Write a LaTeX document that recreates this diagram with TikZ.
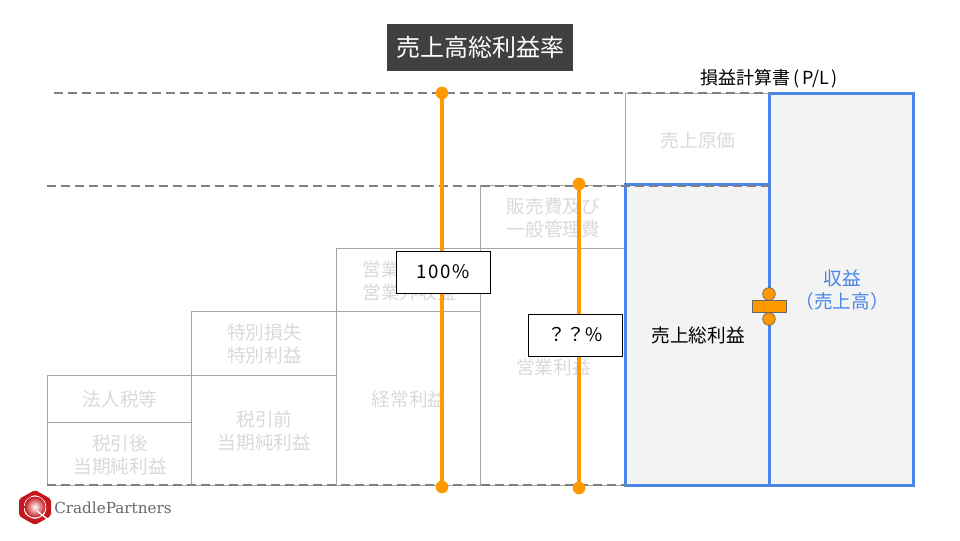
\documentclass[tikz,border=0pt]{standalone}
\usepackage{fontspec}
\setmainfont{Noto Sans CJK JP}
\newfontfamily\logofont{DejaVu Serif}
\definecolor{plblue}{HTML}{4A86E8}
\definecolor{plorange}{HTML}{FF9900}
\definecolor{pltext}{HTML}{D9D9D9}
\definecolor{plline}{HTML}{A6A6A6}
\definecolor{plfill}{HTML}{F3F3F3}
\definecolor{logored}{HTML}{C4161C}
\tikzset{
    plbox/.style={draw=plline, line width=0.75pt},
    bluebox/.style={draw=plblue, fill=plfill, line width=2.25pt},
    pltitle/.style={text=pltext, align=center, font=\fontsize{14}{17.3}\selectfont, inner sep=0pt, xshift=0.75pt, yshift=-0.75pt},
    guide/.style={draw=black!50, dash pattern=on 6.4pt off 4.1pt, line width=1.5pt},
    ratio/.style={draw=plorange, line width=2.6pt},
    dot/.style={circle, fill=plorange, minimum size=9.5pt, inner sep=0pt},
    percent/.style={draw=black, fill=white, line width=0.75pt, minimum width=70.5pt, minimum height=31.5pt, inner sep=0pt, font=\fontsize{14}{17}\selectfont}
}
\begin{document}
\begin{tikzpicture}[x=0.75pt,y=-0.75pt]
    \useasboundingbox (0,0) rectangle (960,540);

    % Blocks of the statement
    \draw[plbox] (47,375) rectangle (191,422) node[midway, pltitle] (tax) {法人税等};
    \draw[plbox] (47,422) rectangle (191,485) node[midway, pltitle] (aftertax) {税引後\\当期純利益};
    \draw[plbox] (191,375) rectangle (336,485) node[midway, pltitle] (pretax) {税引前\\当期純利益};
    \draw[plbox] (191,311) rectangle (336,375) node[midway, pltitle] (special) {特別損失\\特別利益};
    \draw[plbox] (336,311) rectangle (480,485) node[midway, pltitle] (ordinary) {経常利益};
    \draw[plbox] (336,248) rectangle (480,311) node[midway, pltitle] (nonop) {営業外費用\\営業外収益};
    \draw[plbox] (480,248) rectangle (625,485) node[midway, pltitle] (operating) {営業利益};
    \draw[plbox] (480,185) rectangle (625,248) node[midway, pltitle] (sga) {販売費及び\\一般管理費};
    \draw[plbox] (625,93) rectangle (769,185) node[midway, pltitle] (cogs) {売上原価};

    % Blue blocks
    \draw[bluebox] (625,184) rectangle (769,485) node[midway, pltitle, text=black] (gross) {売上総利益};
    \draw[bluebox] (769,93) rectangle (913,485) node[midway, pltitle, text=plblue] (revenue) {収益\\（売上高）};

    % Dashed levels
    \coordinate (topleft) at (54,93);
    \coordinate (topright) at (769,93);
    \coordinate (midleft) at (47,185.5);
    \coordinate (midright) at (769,185.5);
    \coordinate (lowleft) at (47,485);
    \coordinate (lowright) at (625,485);
    \draw[guide] (topleft) -- (topright);
    \draw[guide] (midleft) -- (midright);
    \draw[guide] (lowleft) -- (lowright);

    % Orange bars
    \node[dot] (fulltop) at (442,93) {};
    \node[dot] (fulllow) at (442,487) {};
    \node[dot] (parttop) at (579,184) {};
    \node[dot] (partlow) at (579,488) {};
    \draw[ratio] (fulltop.center) -- (fulllow.center);
    \draw[ratio] (parttop.center) -- (partlow.center);

    % Percent labels
    \node[percent] (full) at (443,272) {\addfontfeature{LetterSpace=10}100\%};
    \node[percent] (part) at (575,335) {？？\%};

    % Division sign
    \node[dot, draw=black!60, line width=0.5pt] (divtop) at (769,294) {};
    \node[dot, draw=black!60, line width=0.5pt] (divlow) at (769,319) {};
    \node[draw=black!60, fill=plorange, line width=0.75pt, minimum width=25.5pt, minimum height=9pt, inner sep=0pt] (divbar) at (769.5,306.5) {};

    % Headings
    \node[fill=black!75, text=white, minimum width=139.5pt, minimum height=35pt, inner sep=0pt, font=\fontsize{18}{22}\selectfont] (heading) at (480,47.5) {売上高総利益率};
    \node[inner sep=0pt, font=\fontsize{13.5}{16}\selectfont] (statement) at (769,79) {損益計算書\,(\,P/L\,)};

    % Logo
    \fill[logored, rounded corners=1.5pt] (35,490) -- (51,499) -- (51,516) -- (35,525) -- (19,516) -- (19,499) -- cycle;
    \fill[white, rounded corners=3pt] (35,494) -- (46,501) -- (46,514) -- (35,520) -- (24,514) -- (24,501) -- cycle;
    \shade[inner color=white, outer color=logored] (35,507) circle (10.5);
    \draw[white, line width=1pt] (37,511) -- (50,521);
    \node[anchor=west, inner sep=0pt, text=black!60, font=\logofont\fontsize{11.4}{14}\selectfont] (logo) at (54,508) {CradlePartners};
\end{tikzpicture}
\end{document}
